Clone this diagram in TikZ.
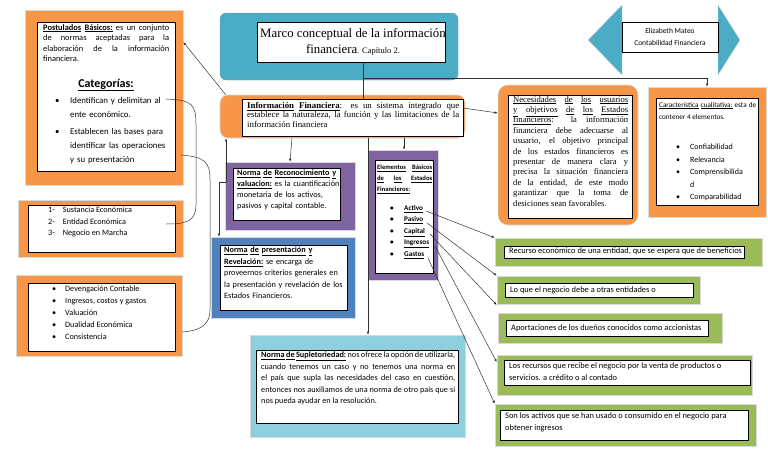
\documentclass[tikz,border=0pt]{standalone}
\usepackage{fontspec}
\setmainfont{Carlito}
\newfontfamily\serifb{Liberation Serif}
\makeatletter
\def\uline#1{\ul@a#1 \@nil}
\def\ul@a#1 #2\@nil{\underline{#1}\ifx\relax#2\relax\else\ \ul@a#2\@nil\fi}
\makeatother
\hyphenpenalty=10000 \exhyphenpenalty=10000 \tolerance=9999 \emergencystretch=20pt
\usetikzlibrary{fit,arrows.meta}
\definecolor{orng}{HTML}{F79646}
\definecolor{purp}{HTML}{8064A2}
\definecolor{blu}{HTML}{4F81BD}
\definecolor{grn}{HTML}{9BBB59}
\definecolor{teal2}{HTML}{4BACC6}
\definecolor{lblue}{HTML}{8ECFDD}
\tikzset{
 frame/.style={inner sep=0pt, draw=black!15, line width=0.6pt},
 wbox/.style={inner sep=0pt, draw=black, fill=white, line width=0.8pt},
 txt/.style={anchor=north west, inner sep=0pt, align=justify, font=\fontsize{8.4}{10.5}\selectfont},
 conn/.style={draw=black!80, line width=0.5pt, -{Latex[length=3pt,width=2.5pt]}},
 plain/.style={draw=black!80, line width=0.5pt},
}
\newcommand{\fr}[6]{\node[frame, fill=#6, fit={(#2,#3)(#4,#5)}] (#1) {};}
\newcommand{\wb}[5]{\node[wbox, fit={(#2,#3)(#4,#5)}] (#1) {};}
\begin{document}
\begin{tikzpicture}[x=1pt,y=-1pt]
\useasboundingbox (0,0) rectangle (768,466);
% Postulados
\fr{po}{25}{10}{183}{185}{orng}
\wb{pi}{37}{22}{175}{171}
\node[txt, text width=126pt] (pt) at (43,24) {\textbf{\uline{Postulados Básicos:}} es un conjunto de normas aceptadas para la elaboración de la información financiera.};
\node[font=\fontsize{12}{13}\selectfont\bfseries, inner sep=0pt] (cat) at (106,85) {\underline{Categorías:}};
\node[txt, text width=128pt, align=left, font=\fontsize{8.8}{14}\selectfont] (pb) at (55,97) {%
\makebox[15pt][l]{\textbullet}Identifican y delimitan al\\\hspace*{15pt}ente económico.\\[3pt]
\makebox[15pt][l]{\textbullet}Establecen las bases para\\\hspace*{15pt}identificar las operaciones\\\hspace*{15pt}y su presentación};
\coordinate (b1) at (166,99);
\coordinate (b2) at (181,155);
% Sustancia
\fr{so}{18}{200}{183}{257}{orng}
\wb{si}{28}{205}{175}{252}
\node[txt, align=left, font=\fontsize{8.2}{11.5}\selectfont] (st) at (48,207) {1-\hspace{8pt}Sustancia Económica\\2-\hspace{8pt}Entidad Económica\\3-\hspace{8pt}Negocio en Marcha};
\coordinate (s2) at (166,224);
% Devengacion
\fr{dv}{16}{275}{182}{356}{orng}
\wb{di}{28}{283}{175}{351}
\node[txt, align=left, font=\fontsize{8.2}{12}\selectfont] (dt) at (52,286) {%
\makebox[13pt][l]{\textbullet}Devengación Contable\\
\makebox[13pt][l]{\textbullet}Ingresos, costos y gastos\\
\makebox[13pt][l]{\textbullet}Valuación\\
\makebox[13pt][l]{\textbullet}Dualidad Económica\\
\makebox[13pt][l]{\textbullet}Consistencia};
\coordinate (d4) at (182,332);
% Title scroll
\node[draw=teal2!60!black!60, fill=teal2, rounded corners=6pt, inner sep=0pt, fit={(220,13)(458,80)}] (ts) {};
\wb{ti}{257}{22}{445}{62}
\node[font=\serifb\fontsize{12.8}{16}\selectfont, align=center, inner sep=0pt] (tt) at (353,42) {Marco conceptual de la información\\financiera{\fontsize{8.5}{8}\selectfont. Capítulo 2.}};
% Double arrow
\path[fill=teal2, draw=black!15] (588,40) -- (622,5) -- (622,22) -- (718,22) -- (718,5) -- (740,40) -- (718,75) -- (718,52) -- (622,52) -- (622,75) -- cycle;
\wb{ai}{622}{22}{718}{52}
\node[font=\fontsize{7.5}{10}\selectfont, align=center, inner sep=0pt] (at) at (670,37) {Elizabeth Mateo\\[2pt]Contabilidad Financiera};
% Info financiera
\node[frame, fill=orng, rounded corners=8pt, fit={(220,95)(465,138)}] (io) {};
\wb{ii}{242}{99}{463}{136}
\node[txt, text width=212pt, font=\serifb\fontsize{8.8}{9.5}\selectfont] (it) at (247,102) {\textbf{\uline{Información Financiera}}: es un sistema integrado que establece la naturaleza, la función y las limitaciones de la información financiera};
% Necesidades
\node[frame, fill=orng, rounded corners=10pt, fit={(498,85)(638,225)}] (no) {};
\wb{ni}{508}{95}{632}{218}
\node[txt, text width=115pt, font=\serifb\fontsize{8.6}{10.4}\selectfont] (nt) at (513,96) {\uline{Necesidades de los usuarios y objetivos de los Estados financieros}: la información financiera debe adecuarse al usuario, el objetivo principal de los estados financieros es presentar de manera clara y precisa la situación financiera de la entidad, de este modo garantizar que la toma de desiciones sean favorables.};
% Caracteristica
\fr{co}{648}{87}{766}{217}{orng}
\wb{ci}{656}{98}{758}{205}
\node[txt, text width=97pt, font=\fontsize{7.2}{12}\selectfont] (ct) at (659,102) {\uline{Característica cualitativa:} esta de contener 4 elementos.};
\node[txt, align=left, font=\fontsize{8}{12.5}\selectfont] (cb) at (676,144) {%
\makebox[14pt][l]{\textbullet}Confiabilidad\\
\makebox[14pt][l]{\textbullet}Relevancia\\
\makebox[14pt][l]{\textbullet}Comprensibilida\\\hspace*{14pt}d\\
\makebox[14pt][l]{\textbullet}Comparabilidad};
% Norma reconocimiento
\fr{ro}{225}{162}{355}{230}{purp}
\wb{ri}{233}{168}{340}{220}
\node[txt, text width=104pt, align=left, font=\fontsize{8.2}{11}\selectfont] (rt) at (237,170) {\textbf{\uline{Norma de Reconocimiento y valuacion:}} es la cuantificación monetaria de los activos, pasivos y capital contable.};
% Elementos
\fr{eo}{368}{150}{438}{280}{purp}
\wb{ei}{375}{160}{433}{273}
\node[txt, text width=55pt, font=\fontsize{6.6}{11}\selectfont\bfseries] (et) at (377,165) {\uline{Elementos Básicos de los Estados Financieros:}};
\node[txt, align=left, font=\fontsize{7.2}{11.5}\selectfont\bfseries] (eb) at (390,205) {%
\makebox[14pt][l]{\textbullet}\underline{Activo}\\
\makebox[14pt][l]{\textbullet}\underline{Pasivo}\\
\makebox[14pt][l]{\textbullet}\underline{Capital}\\
\makebox[14pt][l]{\textbullet}\underline{Ingresos}\\
\makebox[14pt][l]{\textbullet}\underline{Gastos}};
\coordinate (ea) at (426,211);
\coordinate (ep) at (427,223);
\coordinate (ec) at (430,234);
\coordinate (ein) at (435,246);
\coordinate (eg) at (428,258);
% Presentacion
\fr{po2}{211}{237}{355}{318}{blu}
\wb{pri}{220}{245}{347}{310}
\node[txt, text width=124pt, align=left, font=\fontsize{8.2}{11.5}\selectfont] (prt) at (224,247) {\textbf{\uline{Norma de presentación y Revelación:}} se encarga de proveernos criterios generales en la presentación y revelación de los Estados Financieros.};
% Supletoriedad
\fr{su}{250}{335}{465}{437}{lblue}
\wb{sui}{256}{350}{458}{423}
\node[txt, text width=194pt, font=\fontsize{8.2}{11.5}\selectfont] (sut) at (261,352) {\textbf{\uline{Norma de Supletoriedad:}} nos ofrece la opción de utilizarla, cuando tenemos un caso y no tenemos una norma en el país que supla las necesidades del caso en cuestión, entonces nos auxiliamos de una norma de otro país que si nos pueda ayudar en la resolución.};
% Green boxes
\fr{g1}{495}{238}{762}{266}{grn}
\wb{g1i}{504}{246}{744}{258}
\node[txt, font=\fontsize{8.4}{8}\selectfont] (g1t) at (509,247.5) {Recurso económico de una entidad, que se espera que de beneficios};
\fr{g2}{497}{276}{700}{304}{grn}
\wb{g2i}{505}{283}{693}{297}
\node[txt, font=\fontsize{8.4}{8}\selectfont] (g2t) at (510,286) {Lo que el negocio debe a otras entidades o};
\fr{g3}{498}{313}{722}{343}{grn}
\wb{g3i}{506}{320}{708}{336}
\node[txt, font=\fontsize{8.4}{8}\selectfont] (g3t) at (511,324) {Aportaciones de los dueños conocidos como accionistas};
\fr{g4}{497}{355}{752}{395}{grn}
\wb{g4i}{504}{360}{750}{385}
\node[txt, align=left, font=\fontsize{8.4}{12}\selectfont] (g4t) at (509,362) {Los recursos que recibe el negocio por la venta de productos o\\servicios. a crédito o al contado};
\fr{g5}{495}{404}{756}{446}{grn}
\wb{g5i}{500}{410}{748}{440}
\node[txt, align=left, font=\fontsize{8.4}{12}\selectfont] (g5t) at (505,412) {Son los activos que se han usado o consumido en el negocio para\\obtener ingresos};
% Connectors
\draw[conn] (io.north west) ++(6,0) -- (po.east |- 0,42);
\draw[plain] (363,78) -- (ti.south -| 363,0);
\draw[plain] (363,78) -- (ii.north -| 363,0);
\draw[conn] (363,78) -| (co.north);
\draw[conn] (ii.east |- 0,108) -- (no.west |- 0,113);
\draw[conn] (292,138) -- (ro.north);
\draw[conn] (404,138) -- (eo.north -| 404,0);
\draw[conn] (368,138) -- (su.north -| 368,0);
\draw[conn] (226,182) -- (io.south -| 226,0);
\draw[plain] (219,182) -- (226,182);
\draw[conn] (219,182) -- (po2.north -| 219,0);
\draw[plain] (b1) .. controls (192,100) and (196,104) .. (196,125) -- (196,205) .. controls (196,222) and (185,224) .. (s2);
\draw[plain] (b2) .. controls (205,157) and (210,162) .. (210,180) -- (210,310) .. controls (210,328) and (195,331) .. (d4);
\draw[conn] (ea) -- (g1.north west);
\draw[conn] (ep) -- (g2.north west);
\draw[conn] (ec) -- (g2.south west |- 0,305);
\draw[conn] (ein) -- (g4.west |- 0,362);
\draw[conn] (eg) -- (g5.north west);
\end{tikzpicture}
\end{document}
